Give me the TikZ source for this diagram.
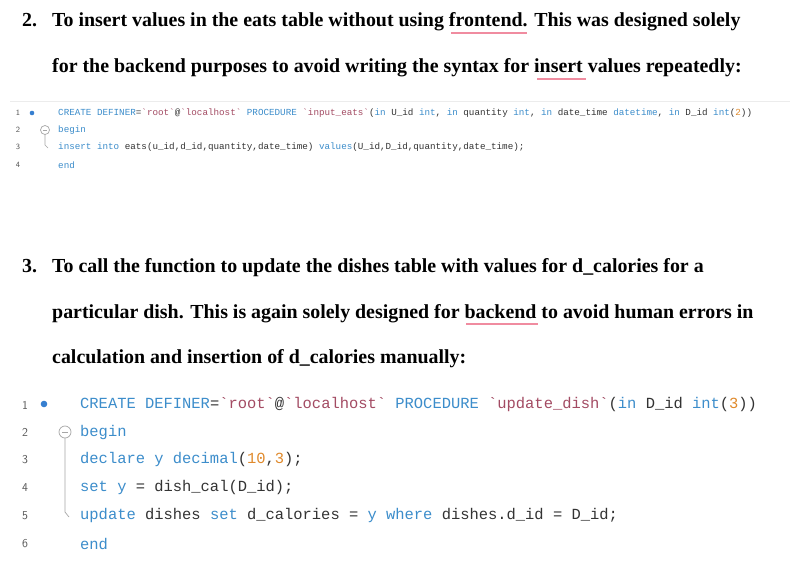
\documentclass[tikz,border=0pt]{standalone}
\usepackage{fontspec}
\setmainfont{Liberation Serif}
\newfontfamily\code{Liberation Mono}
\definecolor{kw}{HTML}{3C8DCB}
\definecolor{st}{HTML}{A34B63}
\definecolor{nm}{HTML}{E08A2C}
\definecolor{tx}{HTML}{333333}
\definecolor{ln}{HTML}{555555}
\definecolor{ul}{HTML}{F08CA0}
\newcommand{\K}[1]{\textcolor{kw}{#1}}
\newcommand{\Sg}[1]{\textcolor{st}{#1}}
\newcommand{\N}[1]{\textcolor{nm}{#1}}
\newcommand{\bq}{\textasciigrave}
\begin{document}
\begin{tikzpicture}[x=1pt,y=-1pt,
  head/.style={anchor=base west,inner sep=0,font=\fontsize{19.9}{22}\selectfont\bfseries},
  smallcode/.style={anchor=west,inner sep=0,text=tx,font=\code\fontsize{9.25}{11}\selectfont},
  bigcode/.style={anchor=west,inner sep=0,text=tx,font=\code\fontsize{15.45}{17}\selectfont},
  snum/.style={anchor=center,inner sep=0,text=ln,font=\sffamily\fontsize{8}{9}\selectfont},
  bnum/.style={anchor=center,inner sep=0,text=ln,font=\sffamily\fontsize{12}{14}\selectfont},
  fold/.style={draw=gray!70,line width=0.7pt}]
\fill[white] (0,0) rectangle (801,586);
\useasboundingbox (0,0) rectangle (801,586);
% heading 2
\node[head] (h2n) at (22,27) {2.};
\node[head] (h2a) at (52,27) {To insert values in the eats table without using frontend. This was designed solely};
\node[head] (h2b) at (52,73) {for the backend purposes to avoid writing the syntax for insert values repeatedly:};
% heading 3
\node[head] (h3n) at (22,272) {3.};
\node[head] (h3a) at (52,272) {To call the function to update the dishes table with values for d\_calories for a};
\node[head] (h3b) at (52,318) {particular dish. This is again solely designed for backend to avoid human errors in};
\node[head] (h3c) at (52,363) {calculation and insertion of d\_calories manually:};
% pink underlines
\draw[ul,line width=1.5pt] (451,33) -- (527,33);
\draw[ul,line width=1.5pt] (537,79) -- (586,79);
\draw[ul,line width=1.5pt] (466,324) -- (538,324);
% divider
\draw[gray!15,line width=0.8pt] (10,101) -- (790,101);
% code block 1
\node[snum] (s1) at (18,113) {1};
\node[snum] (s2) at (18,130) {2};
\node[snum] (s3) at (18,147) {3};
\node[snum] (s4) at (18,165) {4};
\fill[kw!90!blue] (32,113) circle (2.3);
\draw[fold] (45,130) circle (4.5);
\draw[fold] (42.8,130) -- (47.2,130);
\draw[fold] (45,134.5) -- (45,145) -- (48,148);
\node[smallcode] (c1) at (58,113) {\K{CREATE DEFINER}=\Sg{\bq root\bq}@\Sg{\bq localhost\bq} \K{PROCEDURE} \Sg{\bq input\_eats\bq}(\K{in} U\_id \K{int}, \K{in} quantity \K{int}, \K{in} date\_time \K{datetime}, \K{in} D\_id \K{int}(\N{2}))};
\node[smallcode] (c2) at (58,130) {\K{begin}};
\node[smallcode] (c3) at (58,147) {\K{insert into} eats(u\_id,d\_id,quantity,date\_time) \K{values}(U\_id,D\_id,quantity,date\_time);};
\node[smallcode] (c4) at (58,165) {\K{end}};
% code block 2
\node[bnum] (b1) at (25,405) {1};
\node[bnum] (b2) at (25,432) {2};
\node[bnum] (b3) at (25,460) {3};
\node[bnum] (b4) at (25,488) {4};
\node[bnum] (b5) at (25,516) {5};
\node[bnum] (b6) at (25,544) {6};
\fill[kw!90!blue] (44,404) circle (3.3);
\draw[fold] (65,432) circle (6);
\draw[fold] (62,432) -- (68,432);
\draw[fold] (65,438) -- (65,512) -- (69,517);
\node[bigcode] (d1) at (80,405) {\K{CREATE DEFINER}=\Sg{\bq root\bq}@\Sg{\bq localhost\bq} \K{PROCEDURE} \Sg{\bq update\_dish\bq}(\K{in} D\_id \K{int}(\N{3}))};
\node[bigcode] (d2) at (80,432) {\K{begin}};
\node[bigcode] (d3) at (80,460) {\K{declare} \K{y}  \K{decimal}(\N{10},\N{3});};
\node[bigcode] (d4) at (80,488) {\K{set} \K{y} = dish\_cal(D\_id);};
\node[bigcode] (d5) at (80,516) {\K{update} dishes \K{set} d\_calories = \K{y} \K{where} dishes.d\_id = D\_id;};
\node[bigcode] (d6) at (80,544) {\K{end}};
\end{tikzpicture}
\end{document}
